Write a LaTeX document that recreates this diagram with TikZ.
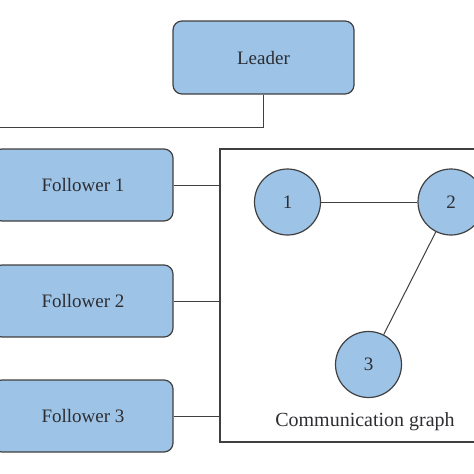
\documentclass[tikz,border=0pt]{standalone}
\usepackage{fontspec}
\setmainfont{Liberation Serif}
\usepackage{tikz}

\definecolor{boxblue}{RGB}{157,195,230}
\definecolor{edgegray}{RGB}{64,64,64}
\definecolor{textgray}{RGB}{45,45,50}

\tikzset{
  agentbox/.style={draw=edgegray, line width=1.2pt, fill=boxblue, rounded corners=9pt,
    text=textgray, font=\fontsize{19}{22}\selectfont},
  vertex/.style={draw=edgegray, line width=1.2pt, fill=boxblue, circle, minimum size=66pt,
    inner sep=0pt, text=textgray, font=\fontsize{19}{22}\selectfont},
  link/.style={draw=edgegray, line width=1pt}
}

\begin{document}
\begin{tikzpicture}[x=1pt, y=-1pt]
      % Frame
      \useasboundingbox (0,0) rectangle (474,474);
      \clip (0,0) rectangle (474,474);

      % Leader
      \node[agentbox, minimum width=181pt, minimum height=73pt] (leader) at (263.5, 57.5) {Leader};
      \coordinate (bus) at (-5, 127);

      % Followers
      \node[agentbox, minimum width=180pt, minimum height=72pt] (f1) at (83, 185) {Follower 1};
      \node[agentbox, minimum width=180pt, minimum height=72pt] (f2) at (83, 301) {Follower 2};
      \node[agentbox, minimum width=180pt, minimum height=72pt] (f3) at (83, 416) {Follower 3};

      % Communication graph box
      \node[draw=edgegray, line width=1.2pt, minimum width=280pt, minimum height=293pt,
            inner sep=0pt] (graph) at (360, 295.5) {};
      \node[text=textgray, font=\fontsize{20}{23}\selectfont] (caption) at (365, 422)
        {Communication graph};

      % Vertices
      \node[vertex] (v1) at (287.5, 202) {1};
      \node[vertex] (v2) at (451, 202) {2};
      \node[vertex] (v3) at (368.5, 364.5) {3};

      % Edges
      \draw[link] (leader.south) |- (bus);
      \draw[link] (f1.east) -- (f1.east -| graph.west);
      \draw[link] (f2.east) -- (f2.east -| graph.west);
      \draw[link] (f3.east) -- (f3.east -| graph.west);
      \draw[link] (v1) -- (v2);
      \draw[link] (v2) -- (v3);
    \end{tikzpicture}
\end{document}
